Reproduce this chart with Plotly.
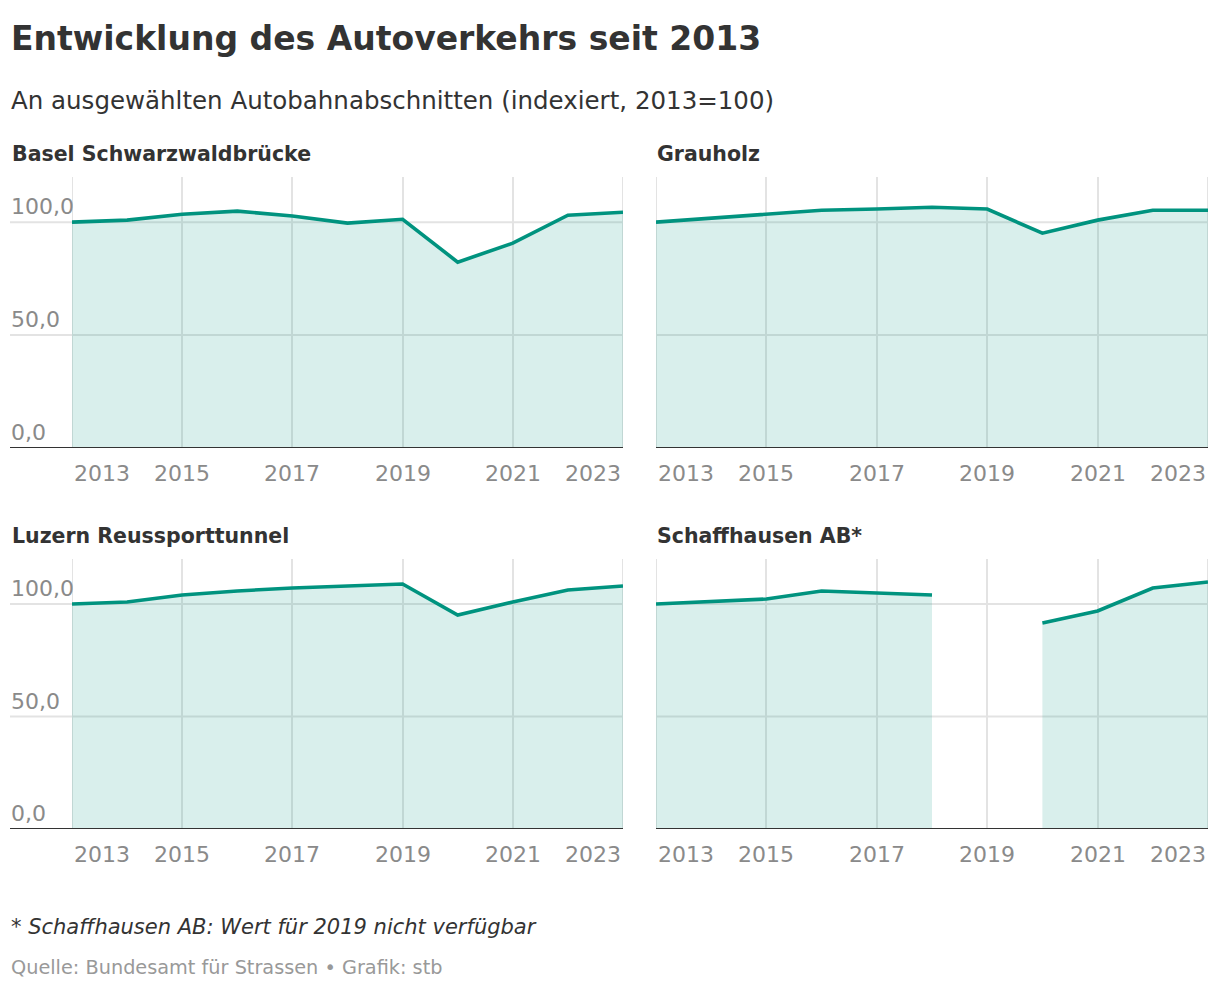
import plotly.graph_objects as go

W, H = 1220, 990
FONT = "DejaVu Sans"

years = list(range(2013, 2024))
basel = [100, 100.9, 103.5, 104.9, 102.7, 99.6, 101.3, 82.3, 90.7, 103.1, 104.4]
grauholz = [100, 101.8, 103.5, 105.3, 105.8, 106.6, 105.8, 95.1, 100.9, 105.3, 105.3]
luzern = [100, 100.9, 104.0, 105.8, 107.1, 108.0, 108.9, 95.1, 100.9, 106.2, 108.0]
schaffhausen = [100, 100.9, 102.2, 105.8, 104.9, 104.0, None, 91.6, 96.9, 107.1, 109.8]

panel_titles = ["Basel Schwarzwaldbrücke", "Grauholz", "Luzern Reussporttunnel", "Schaffhausen AB*"]
series = [basel, grauholz, luzern, schaffhausen]
x_ticks = [2013, 2015, 2017, 2019, 2021, 2023]
x_tick_labels = ["2013", "2015", "2017", "2019", "2021", "2023"]
y_ticks = [0, 50, 100]
y_tick_labels = ["0,0", "50,0", "100,0"]

LINE = "#00937f"
FILL = "rgba(0,147,127,0.15)"
GRID = "#e3e3e3"

def px_x(p):
    return p / W

def px_y(p):
    return 1 - p / H

def segments(xs, ys):
    """Split a series at missing values into contiguous runs."""
    out, cx, cy = [], [], []
    for x, y in zip(xs, ys):
        if y is None:
            if cx:
                out.append((cx, cy))
            cx, cy = [], []
        else:
            cx.append(x)
            cy.append(y)
    if cx:
        out.append((cx, cy))
    return out

# panel geometry in pixels: (left, right), (top, bottom)
cols = [(72, 623), (656, 1208)]
rows = [(177, 448), (559, 829)]

fig = go.Figure()
annotations = []
shapes = []

for i, (name, vals) in enumerate(zip(panel_titles, series)):
    r, c = divmod(i, 2)
    xl, xr = cols[c]
    yt, yb = rows[r]
    ax = "" if i == 0 else str(i + 1)
    xa, ya = "x" + ax, "y" + ax
    for sx, sy in segments(years, vals):
        fig.add_trace(go.Scatter(
            x=sx, y=sy, mode="lines", xaxis=xa, yaxis=ya,
            line=dict(color=LINE, width=3.6), fill="tozeroy", fillcolor=FILL,
            hoverinfo="x+y", showlegend=False,
        ))
    fig.update_layout(**{
        "xaxis" + ax: dict(domain=[px_x(xl), px_x(xr)], range=[2013, 2023], anchor=ya,
                           tickvals=x_ticks, showticklabels=False, showgrid=True,
                           gridcolor=GRID, gridwidth=2, zeroline=False, showline=False,
                           fixedrange=True),
        "yaxis" + ax: dict(domain=[px_y(yb), px_y(yt)], range=[0, 120], anchor=xa,
                           showticklabels=False, showgrid=False, zeroline=False,
                           showline=False, fixedrange=True),
    })
    # edge gridlines (first and last tick) in case the axis skips them
    for tv in (x_ticks[0], x_ticks[-1]):
        shapes.append(dict(type="line", xref=xa, yref=ya + " domain", x0=tv, x1=tv,
                           y0=0, y1=1, line=dict(color=GRID, width=2), layer="below"))
    gl = 10 if c == 0 else xl
    for yv in y_ticks[1:]:
        shapes.append(dict(type="line", xref="paper", yref=ya, x0=px_x(gl), x1=px_x(xr),
                           y0=yv, y1=yv, line=dict(color=GRID, width=2), layer="below"))
    shapes.append(dict(type="line", xref="paper", yref=ya, x0=px_x(gl), x1=px_x(xr),
                       y0=0, y1=0, line=dict(color="#333333", width=2), layer="above"))
    # panel title
    annotations.append(dict(text="<b>" + name + "</b>", xref="paper", yref="paper",
                            x=px_x(10 if c == 0 else xl - 1), y=px_y(yt - 23), xanchor="left",
                            yanchor="middle", showarrow=False,
                            font=dict(family=FONT, size=20.5, color="#333333")))
    # x tick labels
    for tv, tl in zip(x_ticks, x_tick_labels):
        anc = "left" if tv == x_ticks[0] else ("right" if tv == x_ticks[-1] else "center")
        annotations.append(dict(text=tl, xref=xa, yref="paper", x=tv, y=px_y(yb + 25),
                                xanchor=anc, yanchor="middle", showarrow=False,
                                font=dict(family=FONT, size=22, color="#8a8a8a")))
    # y tick labels on left column
    if c == 0:
        for tv, tl in zip(y_ticks, y_tick_labels):
            annotations.append(dict(text=tl, xref="paper", yref=ya, x=px_x(9), y=tv,
                                    xanchor="left", yanchor="bottom", yshift=1, showarrow=False,
                                    font=dict(family=FONT, size=22, color="#8a8a8a")))

annotations += [
    dict(text="<b>Entwicklung des Autoverkehrs seit 2013</b>", xref="paper", yref="paper",
         x=px_x(9), y=px_y(38), xanchor="left", yanchor="middle", showarrow=False,
         font=dict(family=FONT, size=33, color="#333333")),
    dict(text="An ausgewählten Autobahnabschnitten (indexiert, 2013=100)", xref="paper", yref="paper",
         x=px_x(9), y=px_y(101), xanchor="left", yanchor="middle", showarrow=False,
         font=dict(family=FONT, size=24.5, color="#333333")),
    dict(text="<i>* Schaffhausen AB: Wert für 2019 nicht verfügbar</i>", xref="paper", yref="paper",
         x=px_x(9), y=px_y(927), xanchor="left", yanchor="middle", showarrow=False,
         font=dict(family=FONT, size=21, color="#333333")),
    dict(text="Quelle: Bundesamt für Strassen • Grafik: stb", xref="paper", yref="paper",
         x=px_x(9), y=px_y(967), xanchor="left", yanchor="middle", showarrow=False,
         font=dict(family=FONT, size=19.3, color="#999999")),
]

fig.update_layout(
    width=W, height=H, margin=dict(l=0, r=0, t=0, b=0),
    paper_bgcolor="white", plot_bgcolor="white",
    annotations=annotations, shapes=shapes,
    font=dict(family=FONT),
)

fig.write_html("out.html")
